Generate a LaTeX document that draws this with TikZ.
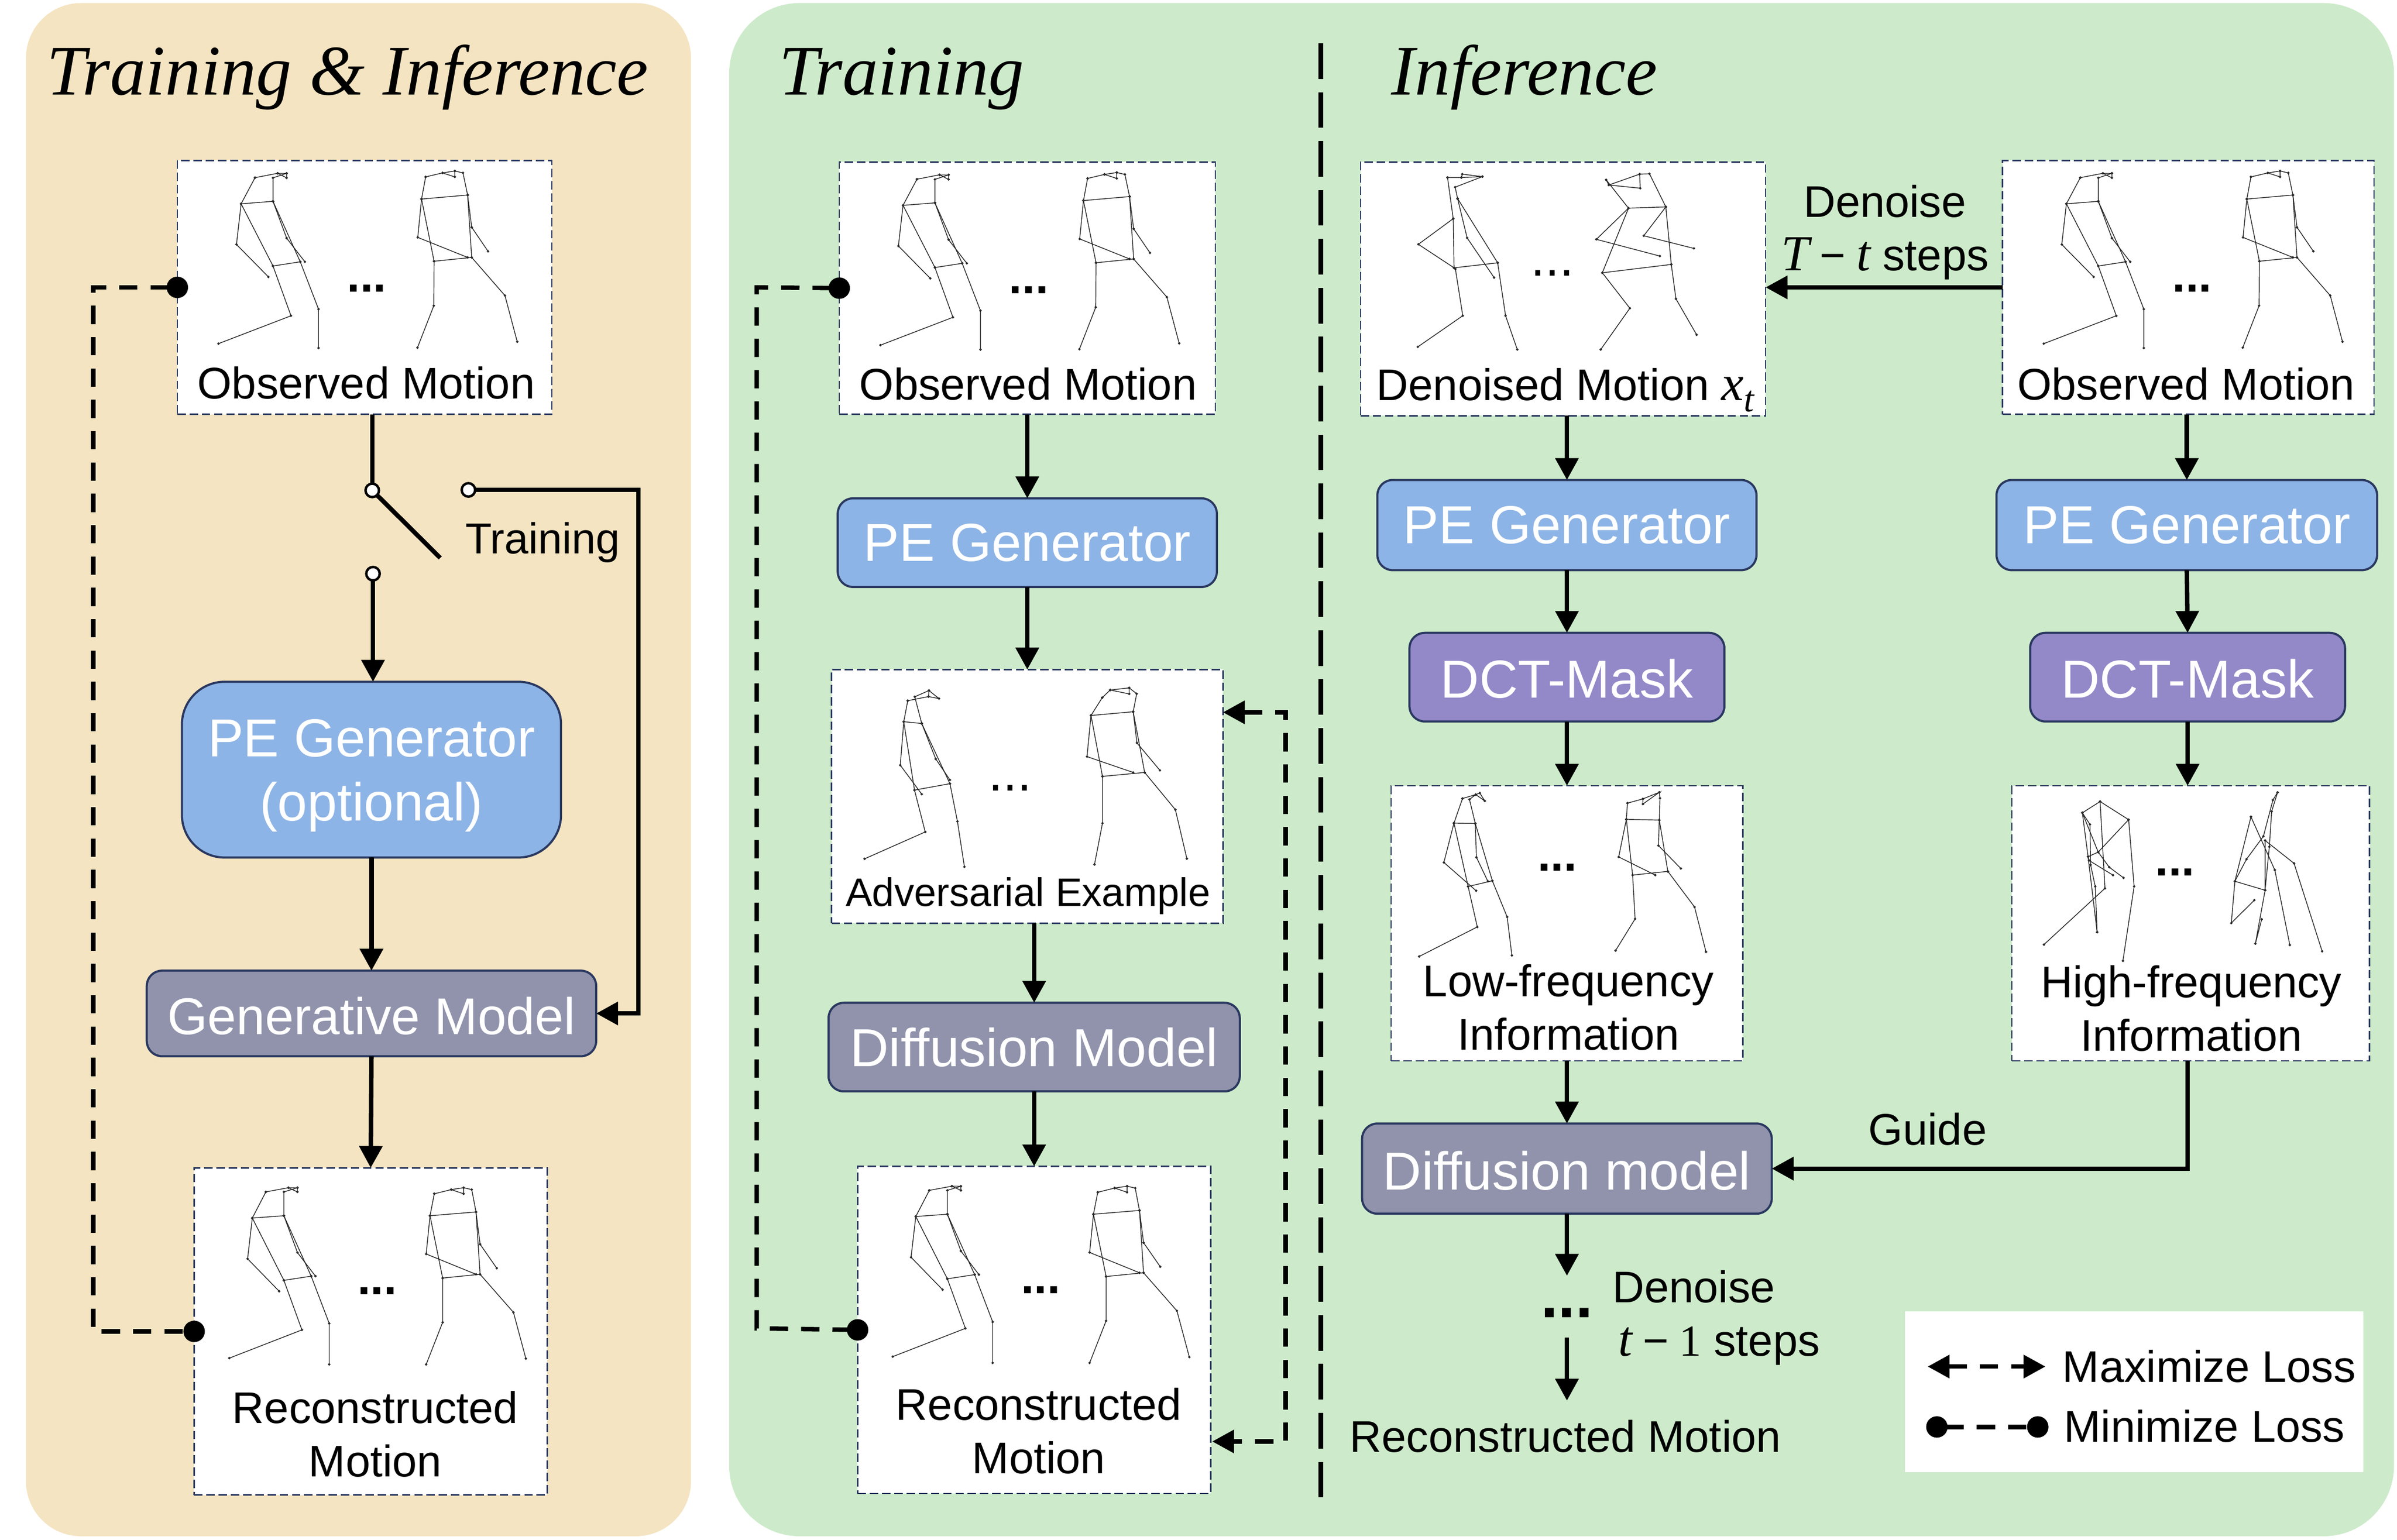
\documentclass[tikz,border=0pt]{standalone}
\usepackage{fontspec}
\setmainfont{Liberation Sans}
\newfontfamily\titlefont{Liberation Serif}
\usetikzlibrary{arrows.meta,calc,positioning}

\definecolor{tanpanel}{HTML}{F4E4C1}
\definecolor{greenpanel}{HTML}{CDEBCA}
\definecolor{peblue}{HTML}{8DB4E6}
\definecolor{modelgray}{HTML}{9093AB}
\definecolor{dctpurple}{HTML}{9388C8}
\definecolor{navyline}{HTML}{2A3860}
\definecolor{jointblue}{HTML}{2F5597}

\tikzset{
    panel/.style={anchor=north west, inner sep=0pt, outer sep=0pt},
    imgbox/.style={anchor=north west, draw=navyline, fill=white, line width=.9pt,
        dash pattern=on 5.5pt off 2.5pt, inner sep=0pt, outer sep=0pt},
    blockbox/.style={anchor=north west, draw=navyline, line width=1.4pt, text=white,
        inner sep=0pt, outer sep=0pt, font=\fontsize{35}{42}\selectfont},
    genbox/.style={blockbox, fill=modelgray, rounded corners=10pt},
    pebox/.style={blockbox, fill=peblue, rounded corners=10pt},
    dctbox/.style={blockbox, fill=dctpurple, rounded corners=10pt, text height=27.5pt},
    heading/.style={anchor=base west, inner sep=0pt, font=\titlefont\itshape\fontsize{46.5}{50}\selectfont},
    caption/.style={anchor=base, inner sep=0pt, align=center, font=\fontsize{29}{35}\selectfont},
    flow/.style={line width=2.9pt, -{Triangle[length=14.3pt,width=14.8pt]}},
    wire/.style={line width=2.9pt},
    maxloss/.style={line width=2.9pt, dash pattern=on 12pt off 8.5pt,
        {Triangle[length=14.3pt,width=14.8pt]}-{Triangle[length=14.3pt,width=14.8pt]}},
    minloss/.style={line width=2.9pt, dash pattern=on 12pt off 8.5pt,
        {Circle[length=14pt]}-{Circle[length=14pt]}, shorten <=-7pt, shorten >=-7pt},
    port/.style={circle, draw, fill=white, line width=1.6pt, minimum size=8.8pt, inner sep=0pt, outer sep=0pt},
    bone/.style={line width=.5pt, black!85, mark=*, mark size=.55pt,
        mark options={draw=none, fill=jointblue}},
    dotsbold/.style={anchor=base, inner sep=0pt, font=\bfseries\fontsize{31}{35}\selectfont},
    dotsthin/.style={anchor=base, inner sep=0pt, font=\fontsize{34}{40}\selectfont},
}

\newcommand{\bone}[1]{\draw[bone] plot coordinates {#1};}
\newcommand{\mvar}[1]{{\titlefont\itshape #1}}
\newcommand{\mminus}{\hspace{7pt}−\hspace{7pt}}

% two poses inside an image box, numbers are pixels of the crop they were read from
\newcommand{\figsobs}[1]{
    \begin{scope}[shift={(#1.north west)}, x=.1783pt, y=-.1248pt, shift={(-65,-57)}]
        \bone{(350,147)(433,124)(466,148)(466,124)(416,148)(416,271)}
        \bone{(433,124)(466,124)}
        \bone{(350,147)(299,284)(416,271)}
        \bone{(299,284)(282,497)(399,667)}
        \bone{(299,284)(416,610)(516,588)(416,271)}
        \bone{(416,271)(466,464)(533,588)}
        \bone{(416,610)(482,871)(216,1017)}
        \bone{(516,588)(583,836)(583,1040)}
        \bone{(976,143)(1038,122)(1083,112)(1113,122)(1130,238)(961,259)(976,143)}
        \bone{(1038,122)(1083,143)(1083,112)}
        \bone{(961,259)(947,460)(1130,565)}
        \bone{(1130,238)(1145,407)(1205,533)}
        \bone{(961,259)(1007,585)(1145,565)(1130,238)}
        \bone{(1007,585)(1006,818)(946,1038)}
        \bone{(1145,565)(1267,765)(1312,1007)}
        \node[dotsbold] (#1-dots) at (760,745) {...};
    \end{scope}
}
\newcommand{\figsden}[1]{
    \begin{scope}[shift={(#1.north west)}, x=.1783pt, y=-.1165pt, shift={(-10,-67)}]
        \bone{(329,154)(380,154)(457,149)(383,135)(380,154)}
        \bone{(457,149)(357,208)(366,272)}
        \bone{(329,154)(350,385)(222,529)(353,661)(350,385)}
        \bone{(366,272)(401,493)(500,716)}
        \bone{(366,272)(513,633)(353,661)}
        \bone{(358,668)(385,930)(220,1105)}
        \bone{(513,633)(542,930)(585,1120)}
        \bone{(911,167)(921,196)(1034,135)(1036,214)(921,196)}
        \bone{(1034,135)(1070,133)(1130,319)(993,326)(911,167)}
        \bone{(993,326)(875,501)(1108,595)}
        \bone{(1130,319)(1049,481)(1233,552)}
        \bone{(993,326)(897,689)(1150,642)(1130,319)}
        \bone{(1150,642)(1167,835)(1243,1037)}
        \bone{(897,689)(998,888)(891,1120)}
        \node[dotsthin] (#1-dots) at (713,707) {...};
    \end{scope}
}
\newcommand{\figsadv}[1]{
    \begin{scope}[shift={(#1.north west)}, x=.1633pt, y=-.1165pt]
        \bone{(305,175)(388,152)(430,163)(390,118)(333,153)(361,303)(289,293)(305,175)}
        \bone{(388,152)(390,118)}
        \bone{(289,293)(275,537)(361,700)}
        \bone{(289,293)(332,677)(474,641)(361,303)}
        \bone{(361,303)(417,502)(474,620)}
        \bone{(332,677)(375,912)(132,1063)}
        \bone{(474,641)(504,853)(532,1108)}
        \bone{(1084,158)(1116,115)(1192,103)(1222,136)(1208,237)(1039,258)(1084,158)}
        \bone{(1116,115)(1192,137)(1192,103)}
        \bone{(1039,258)(1023,489)(1208,578)}
        \bone{(1208,237)(1223,412)(1315,566)}
        \bone{(1039,258)(1085,600)(1254,578)(1208,237)}
        \bone{(1085,600)(1085,863)(1053,1095)}
        \bone{(1254,578)(1377,787)(1423,1062)}
        \node[dotsthin] (#1-dots) at (715,680) {...};
    \end{scope}
}
\newcommand{\figslow}[1]{
    \begin{scope}[shift={(#1.north west)}, x=.1468pt, y=-.1165pt]
        \bone{(318,72)(377,50)(395,41)(417,85)(377,50)(349,77)(375,212)(280,210)(318,72)}
        \bone{(280,210)(235,431)(379,590)}
        \bone{(280,210)(343,566)(451,534)(375,212)}
        \bone{(375,212)(380,402)(431,537)}
        \bone{(343,566)(384,793)(125,959)}
        \bone{(451,534)(517,737)(538,953)}
        \bone{(1053,98)(1122,74)(1195,37)(1122,103)(1122,74)}
        \bone{(1195,37)(1198,70)(1195,193)(1048,189)(1053,98)}
        \bone{(1048,189)(1014,400)(1177,502)}
        \bone{(1195,193)(1191,336)(1291,465)}
        \bone{(1048,189)(1076,502)(1233,481)(1195,193)}
        \bone{(1076,502)(1087,748)(1000,926)}
        \bone{(1233,481)(1352,681)(1403,933)}
        \node[dotsbold] (#1-dots) at (740,480) {...};
    \end{scope}
}
\newcommand{\figshigh}[1]{
    \begin{scope}[shift={(#1.north west)}, x=.1382pt, y=-.1248pt, shift={(-42,-55)}]
        \bone{(376,197)(460,138)(595,233)(621,583)(568,973)}
        \bone{(460,138)(483,593)(194,888)}
        \bone{(376,197)(412,258)(415,470)(437,583)(446,823)}
        \bone{(376,197)(403,427)(446,823)}
        \bone{(376,197)(451,403)(503,482)(571,538)}
        \bone{(595,233)(451,403)(403,427)(408,447)(521,524)}
        \bone{(1300,90)(1278,130)(1233,320)(1153,440)(1098,556)(1241,603)(1241,342)(1378,462)(1511,923)}
        \bone{(1300,90)(1272,190)(1261,375)(1241,603)}
        \bone{(1174,218)(1098,556)(1081,775)(1190,655)}
        \bone{(1174,218)(1287,497)(1358,890)}
        \bone{(1241,603)(1195,883)(1225,755)}
        \node[dotsbold] (#1-dots) at (815,528) {...};
    \end{scope}
}
\newcommand{\figsrec}[1]{
    \begin{scope}[shift={(#1.north west)}, x=.1475pt, y=-.1368pt]
        \bone{(318,115)(418,95)(458,115)(458,95)(398,115)(398,229)(258,240)(318,115)}
        \bone{(418,95)(458,95)}
        \bone{(258,240)(237,435)(377,590)}
        \bone{(258,240)(398,538)(519,518)(398,229)}
        \bone{(398,229)(458,405)(538,518)}
        \bone{(398,538)(478,775)(156,910)}
        \bone{(519,518)(599,744)(599,940)}
        \bone{(1065,124)(1140,104)(1195,95)(1231,104)(1250,211)(1046,229)(1065,124)}
        \bone{(1140,104)(1195,124)(1195,95)}
        \bone{(1046,229)(1029,412)(1250,509)}
        \bone{(1250,211)(1268,365)(1342,480)}
        \bone{(1046,229)(1102,527)(1268,509)(1250,211)}
        \bone{(1102,527)(1102,739)(1029,940)}
        \bone{(1268,509)(1416,691)(1471,912)}
        \node[dotsbold] (#1-dots) at (812,607) {...};
    \end{scope}
}

\begin{document}
\begin{tikzpicture}[x=1pt, y=-1pt]
    \useasboundingbox (0,0) rectangle (1568,1007.4);

    % panels
    \node[panel, fill=tanpanel, rounded corners=36pt, minimum width=435pt, minimum height=1003pt] (panelL) at (17,2) {};
    \node[panel, fill=greenpanel, rounded corners=46pt, minimum width=1089pt, minimum height=1003pt] (panelR) at (477,2) {};

    \node[heading] (titleA) at (30.5,62) {Training \& Inference};
    \node[heading] (titleB) at (509.5,62) {Training};
    \node[heading] (titleC) at (910,62) {Inference};

    % image boxes
    \foreach \n/\px/\py/\w/\h in {obsL/116/105/245/166, recL/127/764/231/214,
        obsM/549/106/246/165, advM/544/438/256/166, recM/561/763/231/214,
        denR/890/106/265/166, obsR/1310/105/243/166, lowR/910/514/230/180, highR/1316/514/234/180} {
        \node[imgbox, minimum width=\w pt, minimum height=\h pt] (\n) at (\px,\py) {};
    }
    \figsobs{obsL}
    \figsobs{obsM}
    \figsobs{obsR}
    \figsrec{recL}
    \figsrec{recM}
    \figsadv{advM}
    \figsden{denR}
    \figslow{lowR}
    \figshigh{highR}

    \node[caption] (capObsL) at (239.5,261) {Observed Motion};
    \node[caption] (capObsM) at (672.5,261.5) {Observed Motion};
    \node[caption] (capObsR) at (1430,261.5) {Observed Motion};
    \node[caption] (capDen) at (1024,262) {Denoised Motion {\fontsize{33}{33}\selectfont\mvar{x}}\raisebox{-.25em}{\fontsize{24}{24}\selectfont\mvar{t}}};
    \node[caption, font=\fontsize{26}{30}\selectfont] (capAdv) at (672.5,593) {Adversarial Example};
    \node[caption] (capRecL) at (245.5,966) {Reconstructed\\Motion};
    \node[caption] (capRecM) at (679.5,964) {Reconstructed\\Motion};
    \node[caption] (capLow) at (1026,687) {Low-frequency\\Information};
    \node[caption] (capHigh) at (1433.5,687.5) {High-frequency\\Information};

    % blocks
    \node[pebox, rounded corners=28pt, minimum width=248pt, minimum height=115pt] (peL) at (119,446) {};
    \node[anchor=center, inner sep=0pt, text=white, align=center, font=\fontsize{35}{42}\selectfont] (peLText) at ($(peL.center)+(0,4)$) {PE Generator\\(optional)};
    \node[genbox, font=\fontsize{33.8}{40}\selectfont, text height=28pt, minimum width=294pt, minimum height=56pt] (genL) at (96,635) {Generative Model};
    \node[pebox, minimum width=248pt, minimum height=58pt] (peM) at (548,326) {PE Generator};
    \node[genbox, minimum width=269pt, minimum height=58pt] (diffM) at (542,656) {Diffusion Model};
    \node[pebox, minimum width=248pt, minimum height=59pt] (peR) at (901,314) {PE Generator};
    \node[dctbox, minimum width=206pt, minimum height=58pt] (dctR) at (922,414) {DCT-Mask};
    \node[genbox, text height=28pt, minimum width=268pt, minimum height=59pt] (diffR) at (891,735) {Diffusion model};
    \node[pebox, minimum width=249pt, minimum height=59pt] (peS) at (1306,314) {PE Generator};
    \node[dctbox, minimum width=206pt, minimum height=58pt] (dctS) at (1328,414) {DCT-Mask};

    % switch
    \node[port] (swTop) at (243.5,320.8) {};
    \node[port] (swBot) at (244,375.3) {};
    \node[port] (swRight) at (306.4,320.5) {};
    \coordinate (swArm) at (288,365);
    \coordinate (swCorner) at (417.5,320.5);
    \node[caption, anchor=base west, font=\fontsize{28.3}{32}\selectfont] (labTrain) at (304.3,362.3) {Training};
    \draw[wire] (swTop |- obsL.south) -- (swTop);
    \draw[wire] (swTop) -- (swArm);
    \draw[flow] (swBot) -- (swBot |- peL.north);
    \draw[flow] (swRight) -- (swCorner) |- (genL.east);

    % solid arrows
    \foreach \a/\b in {peL.south/genL.north, genL.south/recL.north,
        peM.south/{peM.south |- advM.north}, peR.south/dctR.north, dctR.south/lowR.north,
        peS.south/dctS.north, dctS.south/{dctS.south |- highR.north}, lowR.south/diffR.north} {
        \draw[flow] (\a) -- (\b);
    }
    \draw[flow] (peM.north |- obsM.south) -- (peM.north);
    \draw[flow] (diffM.north |- advM.south) -- (diffM.north);
    \draw[flow] (diffM.south) -- (diffM.south |- recM.north);
    \draw[flow] (peR.north |- denR.south) -- (peR.north);
    \draw[flow] (peS.north |- obsR.south) -- (peS.north);
    \draw[flow] (obsR.west) -- (obsR.west -| denR.east);
    \draw[flow] (dctS.south |- highR.south) |- (diffR.east);

    \node[caption] (labDenA) at (1233,142) {Denoise};
    \node[caption] (labDenB) at (1233,177) {{\fontsize{33}{33}\selectfont\mvar{T}}\mminus{\fontsize{33}{33}\selectfont\mvar{t}} steps};
    \node[caption] (labGuide) at (1261,749) {Guide};
    \node[caption] (labStepA) at (1108,852) {Denoise};
    \node[caption] (labStepB) at (1124.5,887) {{\fontsize{33}{33}\selectfont\mvar{t}}\mminus{\titlefont 1} steps};

    % last steps
    \coordinate (stepA) at (1025,834.6);
    \coordinate (stepB) at (1025,875);
    \coordinate (stepC) at (1025,916.3);
    \node[dotsbold, font=\bfseries\fontsize{41}{44}\selectfont] (stepDots) at (1025,862) {...};
    \node[caption] (labRec) at (1024,950) {Reconstructed Motion};
    \draw[flow] (diffR.south) -- (stepA);
    \draw[flow] (stepB) -- (stepC);

    % loss paths
    \coordinate (bendA) at (61,188);
    \coordinate (bendB) at (61,871);
    \coordinate (bendC) at (495,188);
    \coordinate (bendD) at (495,869);
    \coordinate (advIn) at (800,466);
    \coordinate (recIn) at (793,943);
    \coordinate (bendE) at (841,466);
    \coordinate (bendF) at (841,943);
    \draw[minloss] (obsL.west) -- (bendA) -- (bendB) -- (recL.west);
    \draw[minloss] (obsM.west) -- (bendC) -- (bendD) -- (recM.west);
    \draw[maxloss] (advIn) -- (bendE) -- (bendF) -- (recIn);

    % divider
    \coordinate (divTop) at (864,28.3);
    \coordinate (divBot) at (864,980);
    \draw[line width=2.9pt, dash pattern=on 23.3pt off 8.7pt] (divTop) -- (divBot);

    % legend
    \node[panel, fill=white, minimum width=300pt, minimum height=105pt] (legendBox) at (1246,858) {};
    \coordinate (legA) at (1261,894);
    \coordinate (legB) at (1338,894);
    \coordinate (legC) at (1267,933.5);
    \coordinate (legD) at (1333,933.5);
    \draw[maxloss] (legA) -- (legB);
    \draw[minloss] (legC) -- (legD);
    \node[caption, anchor=base west] (legMax) at (1349,904.3) {Maximize Loss};
    \node[caption, anchor=base west] (legMin) at (1350,943.5) {Minimize Loss};
\end{tikzpicture}
\end{document}
